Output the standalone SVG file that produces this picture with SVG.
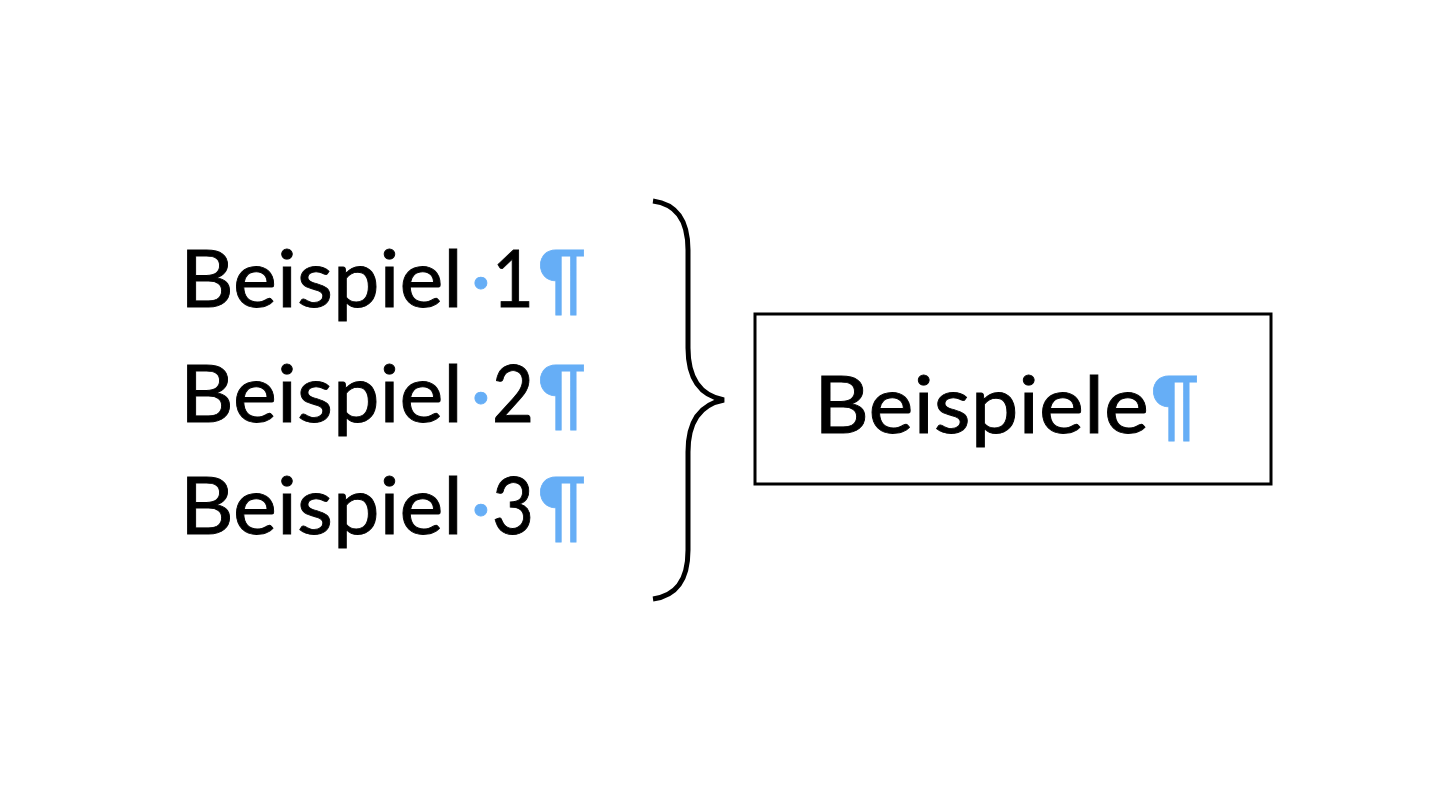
<svg xmlns="http://www.w3.org/2000/svg" width="1456" height="798" viewBox="0 0 1456 798">
<style>
.t{font-family:Lato,"Carlito","Open Sans",sans-serif;font-size:80px;fill:#000;stroke:#000;stroke-width:0.9}
.m{fill:#66AEF6;stroke:#66AEF6}
.c{text-anchor:middle}
</style>
<rect width="1456" height="798" fill="#fff"/>
<g id="items">
<g id="item1">
<text class="t" x="180" y="307" textLength="283" lengthAdjust="spacingAndGlyphs">Beispiel</text>
<text class="t m c" x="481" y="307">·</text>
<text class="t" x="492" y="307" textLength="42" lengthAdjust="spacingAndGlyphs">1</text>
<text class="t m" x="538" y="307" textLength="48" lengthAdjust="spacingAndGlyphs">¶</text>
</g>
<g id="item2">
<text class="t" x="180" y="422" textLength="283" lengthAdjust="spacingAndGlyphs">Beispiel</text>
<text class="t m c" x="481" y="422">·</text>
<text class="t" x="492" y="422" textLength="42" lengthAdjust="spacingAndGlyphs">2</text>
<text class="t m" x="538" y="422" textLength="48" lengthAdjust="spacingAndGlyphs">¶</text>
</g>
<g id="item3">
<text class="t" x="180" y="534" textLength="283" lengthAdjust="spacingAndGlyphs">Beispiel</text>
<text class="t m c" x="481" y="534">·</text>
<text class="t" x="492" y="534" textLength="42" lengthAdjust="spacingAndGlyphs">3</text>
<text class="t m" x="538" y="534" textLength="48" lengthAdjust="spacingAndGlyphs">¶</text>
</g>
</g>
<g id="connectors">
<path d="M653,201 C675,204 688,218 688,250 L688,348 C688,380 702,396 724,400 C702,404 688,420 688,452 L688,550 C688,582 675,596 653,599" fill="none" stroke="#000" stroke-width="5"/>
</g>
<g id="result">
<rect x="755" y="314" width="516" height="170" fill="none" stroke="#000" stroke-width="3"/>
<text class="t" x="814" y="433" textLength="335" lengthAdjust="spacingAndGlyphs">Beispiele</text>
<text class="t m" x="1151" y="433" textLength="48" lengthAdjust="spacingAndGlyphs">¶</text>
</g>
</svg>
